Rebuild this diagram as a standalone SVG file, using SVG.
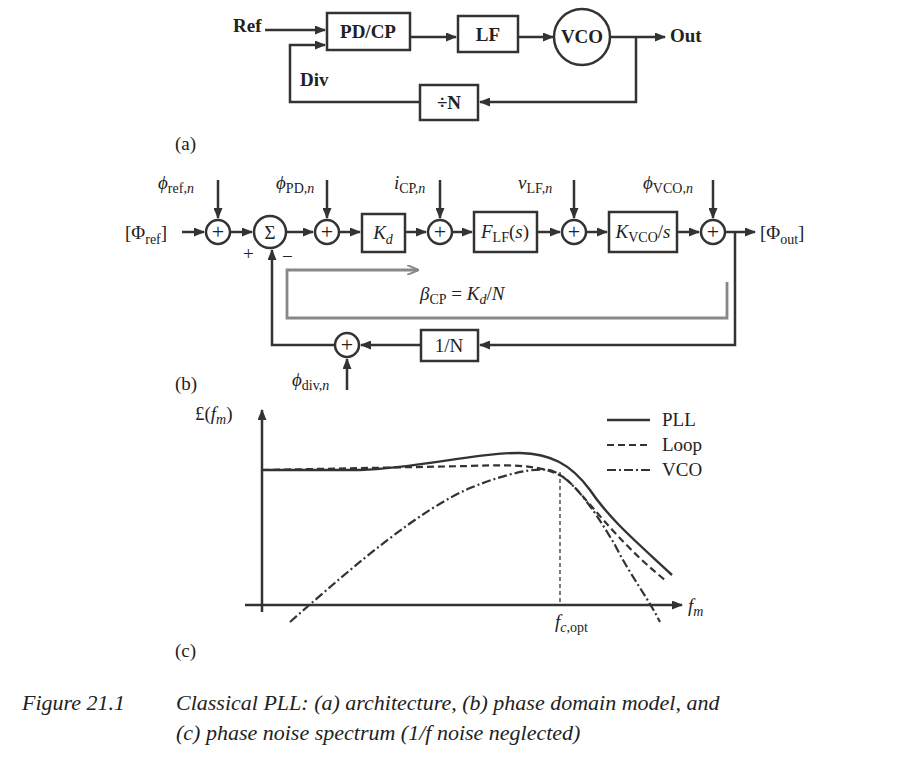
<svg xmlns="http://www.w3.org/2000/svg" width="899" height="761" viewBox="0 0 899 761">
<style>
text{font-family:"Liberation Serif",serif;fill:#222;font-size:19px}
.s{font-size:14px}
.i{font-style:italic}
.b{font-weight:bold}
.ln{stroke:#333;stroke-width:2.5;fill:none}
.g{stroke:#888;stroke-width:2.8;fill:none}
.bx{stroke:#333;stroke-width:2.5;fill:#fff}
.p{font-size:22px}
</style>
<defs>
<marker id="a" markerWidth="11" markerHeight="9" refX="10" refY="4.5" orient="auto" markerUnits="userSpaceOnUse"><path d="M0,0L11,4.5L0,9z" fill="#333"/></marker>
<marker id="ag" markerWidth="12" markerHeight="10" refX="11" refY="5" orient="auto" markerUnits="userSpaceOnUse"><path d="M0,0L12,5L0,10" fill="none" stroke="#888" stroke-width="2"/></marker>
</defs>
<g id="connectors">
<path class="ln" d="M265,30H325" marker-end="url(#a)"/>
<path class="ln" d="M410,37H456" marker-end="url(#a)"/>
<path class="ln" d="M518,37H553" marker-end="url(#a)"/>
<path class="ln" d="M611,37H665" marker-end="url(#a)"/>
<path class="ln" d="M636,37V102H480" marker-end="url(#a)"/>
<path class="ln" d="M420,102H290V45H325" marker-end="url(#a)"/>
<path class="ln" d="M182,232H204" marker-end="url(#a)"/>
<path class="ln" d="M230,232H252" marker-end="url(#a)"/>
<path class="ln" d="M286,232H313" marker-end="url(#a)"/>
<path class="ln" d="M339,232H360" marker-end="url(#a)"/>
<path class="ln" d="M405,232H426" marker-end="url(#a)"/>
<path class="ln" d="M452,232H472" marker-end="url(#a)"/>
<path class="ln" d="M537,232H560" marker-end="url(#a)"/>
<path class="ln" d="M586,232H607" marker-end="url(#a)"/>
<path class="ln" d="M677,232H699" marker-end="url(#a)"/>
<path class="ln" d="M725,232H755" marker-end="url(#a)"/>
<path class="ln" d="M735,232V345H480" marker-end="url(#a)"/>
<path class="ln" d="M421,345H361" marker-end="url(#a)"/>
<path class="ln" d="M335,345H272V250" marker-end="url(#a)"/>
<path class="ln" d="M347,390V359" marker-end="url(#a)"/>
<path class="ln" d="M218,180V218" marker-end="url(#a)"/>
<path class="ln" d="M327,180V218" marker-end="url(#a)"/>
<path class="ln" d="M440,180V218" marker-end="url(#a)"/>
<path class="ln" d="M574,180V218" marker-end="url(#a)"/>
<path class="ln" d="M713,180V218" marker-end="url(#a)"/>
<path class="g" d="M727,282V318H287V270H418" marker-end="url(#ag)"/>
</g>
<g id="a-nodes">
<text x="233" y="32" class="b">Ref</text>
<g id="pdcp"><rect class="bx" x="327" y="13" width="83" height="37"/><text x="368" y="38" text-anchor="middle" class="b">PD/CP</text></g>
<g id="lf"><rect class="bx" x="458" y="16" width="60" height="36"/><text x="488" y="41" text-anchor="middle" class="b">LF</text></g>
<g id="vco"><circle class="bx" cx="582" cy="37" r="28"/><text x="582" y="43" text-anchor="middle" class="b">VCO</text></g>
<text x="670" y="42" class="b">Out</text>
<g id="divn"><rect class="bx" x="420" y="85" width="58" height="35"/><text x="449" y="109" text-anchor="middle" class="b">÷N</text></g>
<text x="300" y="86" class="b">Div</text>
<text x="175" y="150">(a)</text>
</g>
<g id="b-nodes">
<text x="125" y="239">[Φ<tspan class="s" dy="5">ref</tspan><tspan dy="-5">]</tspan></text>
<g id="sum1"><circle class="bx" cx="218" cy="232" r="12"/><text x="218" y="239" text-anchor="middle" class="p">+</text></g>
<g id="sigma"><circle class="bx" cx="270" cy="232" r="16"/><text x="270" y="239" text-anchor="middle">Σ</text></g>
<g id="sum2"><circle class="bx" cx="327" cy="232" r="12"/><text x="327" y="239" text-anchor="middle" class="p">+</text></g>
<g id="kd"><rect class="bx" x="362" y="214" width="43" height="38"/><text x="383" y="239" text-anchor="middle" class="i">K<tspan class="s" dy="5">d</tspan></text></g>
<g id="sum3"><circle class="bx" cx="440" cy="232" r="12"/><text x="440" y="239" text-anchor="middle" class="p">+</text></g>
<g id="flf"><rect class="bx" x="474" y="212" width="63" height="40"/><text x="505" y="238" text-anchor="middle"><tspan class="i">F</tspan><tspan class="s" dy="4">LF</tspan><tspan dy="-4">(</tspan><tspan class="i">s</tspan>)</text></g>
<g id="sum4"><circle class="bx" cx="574" cy="232" r="12"/><text x="574" y="239" text-anchor="middle" class="p">+</text></g>
<g id="kvco"><rect class="bx" x="609" y="212" width="68" height="40"/><text x="643" y="238" text-anchor="middle"><tspan class="i">K</tspan><tspan class="s" dy="4">VCO</tspan><tspan dy="-4">/</tspan><tspan class="i">s</tspan></text></g>
<g id="sum5"><circle class="bx" cx="713" cy="232" r="12"/><text x="713" y="239" text-anchor="middle" class="p">+</text></g>
<text x="760" y="239">[Φ<tspan class="s" dy="5">out</tspan><tspan dy="-5">]</tspan></text>
<g id="onen"><rect class="bx" x="421" y="330" width="57" height="31"/><text x="449" y="352" text-anchor="middle">1/N</text></g>
<g id="sum6"><circle class="bx" cx="347" cy="345" r="12"/><text x="347" y="352" text-anchor="middle" class="p">+</text></g>
<text x="243" y="260">+</text><text x="282" y="263">−</text>
<text x="158" y="189"><tspan class="i">ϕ</tspan><tspan class="s" dy="4">ref,<tspan class="i">n</tspan></tspan></text>
<text x="276" y="189"><tspan class="i">ϕ</tspan><tspan class="s" dy="4">PD,<tspan class="i">n</tspan></tspan></text>
<text x="394" y="189"><tspan class="i">i</tspan><tspan class="s" dy="4">CP,<tspan class="i">n</tspan></tspan></text>
<text x="518" y="189"><tspan class="i">v</tspan><tspan class="s" dy="4">LF,<tspan class="i">n</tspan></tspan></text>
<text x="643" y="189"><tspan class="i">ϕ</tspan><tspan class="s" dy="4">VCO,<tspan class="i">n</tspan></tspan></text>
<text x="292" y="386"><tspan class="i">ϕ</tspan><tspan class="s" dy="4">div,<tspan class="i">n</tspan></tspan></text>
<text x="420" y="300"><tspan class="i">β</tspan><tspan class="s" dy="4">CP</tspan><tspan dy="-4"> = </tspan><tspan class="i">K</tspan><tspan class="s i" dy="4">d</tspan><tspan dy="-4">/</tspan><tspan class="i">N</tspan></text>
<text x="175" y="390">(b)</text>
</g>
<g id="c-plot">
<path class="ln" d="M262,612V410" marker-end="url(#a)"/>
<path class="ln" d="M245,605H682" marker-end="url(#a)"/>
<text x="195" y="420">£(<tspan class="i">f</tspan><tspan class="s i" dy="4">m</tspan><tspan dy="-4">)</tspan></text>
<text x="688" y="612" class="i">f<tspan class="s" dy="4">m</tspan></text>
<path d="M262,470L360,470C420,468 480,452 520,453C550,454 570,463 590,490C610,520 640,545 672,575" stroke="#333" stroke-width="2.4" fill="none"/>
<path d="M262,470L470,466C520,464 545,466 565,478C585,495 615,540 665,580" stroke="#333" stroke-width="2.2" fill="none" stroke-dasharray="7,4"/>
<path d="M290,622C360,560 420,510 470,488C510,472 535,468 550,470C575,478 600,520 615,545C630,575 648,598 660,622" stroke="#333" stroke-width="2.2" fill="none" stroke-dasharray="9,3,2,3"/>
<path d="M560,472V605" stroke="#333" stroke-width="1.3" stroke-dasharray="4,3"/>
<text x="555" y="628" class="i">f<tspan class="s" dy="4">c<tspan font-style="normal">,opt</tspan></tspan></text>
<path d="M607,420H650" stroke="#333" stroke-width="2.4"/>
<path d="M607,445H650" stroke="#333" stroke-width="2.2" stroke-dasharray="7,4"/>
<path d="M607,470H650" stroke="#333" stroke-width="2.2" stroke-dasharray="9,3,2,3"/>
<text x="662" y="426">PLL</text><text x="662" y="451">Loop</text><text x="662" y="476">VCO</text>
<text x="175" y="657">(c)</text>
</g>
<g id="caption">
<text x="22" y="710" class="i" style="font-size:22px">Figure 21.1</text>
<text x="176" y="710" class="i" style="font-size:22px">Classical PLL: (a) architecture, (b) phase domain model, and</text>
<text x="176" y="740" class="i" style="font-size:22px">(c) phase noise spectrum (1/f noise neglected)</text>
</g>
</svg>
